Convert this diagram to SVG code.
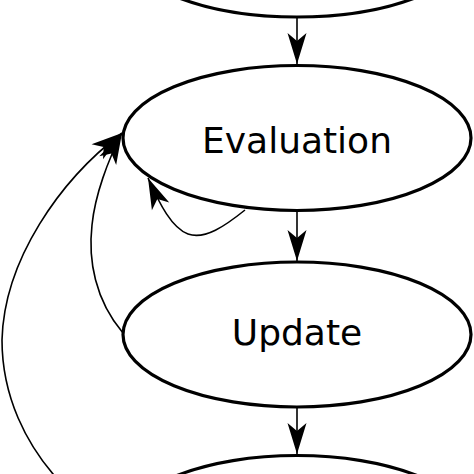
<svg xmlns="http://www.w3.org/2000/svg" width="474" height="474" viewBox="0 0 474 474">
<style>
.node ellipse{fill:#fff;stroke:#000;stroke-width:3.2}
.node text{font-family:"DejaVu Sans",sans-serif;font-size:36px;text-anchor:middle;fill:#000}
.edge{fill:none;stroke:#000;stroke-width:1.6;marker-end:url(#ah)}
</style>
<defs>
<marker id="ah" markerUnits="userSpaceOnUse" viewBox="-32 -10 33 20" refX="0" refY="0" markerWidth="33" markerHeight="20" orient="auto">
<path d="M0,0 L-31,-9.5 L-23,0 L-31,9.5 Z" fill="#000"/>
</marker>
</defs>
<rect width="474" height="474" fill="#fff"/>
<g id="connectors">
<path class="edge" d="M297,18 L297,64"/>
<path class="edge" d="M297,211 L297,261"/>
<path class="edge" d="M297,408 L297,454"/>
<path class="edge" d="M245,210 C225,226 205,240 188,234 C172,228 160,205 148,178"/>
<path class="edge" d="M123,333 C95,300 88,260 92,225 C95,195 108,160 122,133"/>
<path class="edge" d="M62,484 C25,445 2,395 2,340 C4,260 60,180 122,133"/>
</g>
<g id="node-top" class="node"><ellipse cx="297" cy="-55" rx="174" ry="72"/></g>
<g id="node-evaluation" class="node"><ellipse cx="297" cy="138" rx="174" ry="72.5"/><text x="297" y="153">Evaluation</text></g>
<g id="node-update" class="node"><ellipse cx="297" cy="334.5" rx="174" ry="72.5"/><text x="297" y="345">Update</text></g>
<g id="node-bottom" class="node"><ellipse cx="297" cy="528" rx="174" ry="72.5"/></g>
</svg>
